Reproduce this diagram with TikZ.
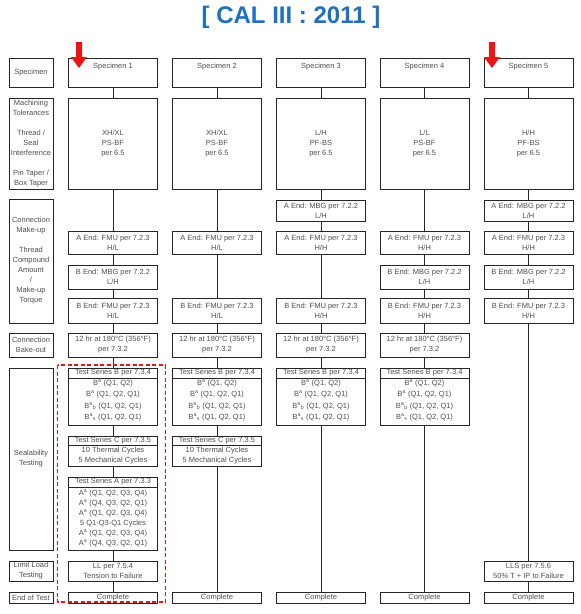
\documentclass[tikz,border=0pt]{standalone}
\usepackage{fontspec}
\setmainfont{Liberation Sans}
\usetikzlibrary{shadows}
\definecolor{titleblue}{RGB}{30,112,192}
\definecolor{txtgray}{RGB}{80,80,80}
\definecolor{arrred}{RGB}{235,20,20}
\newcommand\supsub[2]{\textsuperscript{#1}\textsubscript{#2}}
\begin{document}
\begin{tikzpicture}[x=1pt,y=-1pt,
  bx/.style={draw=black!85, line width=1pt, fill=white, inner sep=0pt,
    minimum width=89pt, align=center, font=\fontsize{7.5}{10}\selectfont, text=txtgray,
    drop shadow={shadow xshift=0.9pt, shadow yshift=-0.9pt, fill=black!70, opacity=1}},
  lb/.style={bx, minimum width=44pt},
  txt/.style={inner sep=0pt, align=center, font=\fontsize{7.5}{10}\selectfont, text=txtgray},
  conn/.style={draw=black!85, line width=1pt},
  hdr/.style={draw=black!85, line width=0.7pt}
]
\useasboundingbox (0,0) rectangle (581,614);
\fill[white] (0,0) rectangle (581,614);

% title
\node[font=\bfseries\fontsize{24}{28}\selectfont, text=titleblue] (title) at (291,17.5) {[ CAL III : 2011 ]};

% left labels
\node[lb, minimum height=29pt] (Lspec) at (31,72.5) {Specimen};
\node[lb, minimum height=91pt] (Lmach) at (31,143.5) {Machining\\Tolerances\\[10pt]Thread /\\Seal\\Interference\\[10pt]Pin Taper /\\Box Taper};
\node[lb, minimum height=124pt] (Lconn) at (31,261) {Connection\\Make-up\\[10pt]Thread\\Compound\\Amount\\/\\Make-up\\Torque};
\node[lb, minimum height=24pt] (Lbake) at (31,345) {Connection\\Bake-out};
\node[lb, minimum height=182pt] (Lseal) at (31,459) {Sealability\\Testing};
\node[lb, minimum height=20pt] (Llimit) at (31,571) {Limit Load\\Testing};
\node[lb, minimum height=11pt] (Lend) at (31,597.5) {End of Test};

% specimen row
\foreach \n/\x in {1/113,2/217,3/321,4/424.5,5/528.5}{
  \node[bx, minimum height=29pt, label={[txt, anchor=north, yshift=-5pt]north:Specimen \n}] (s\n) at (\x,72.5) {};
}

% machining row
\node[bx, minimum height=91pt] (m1) at (113,143.5) {XH/XL\\PS-BF\\per 6.5};
\node[bx, minimum height=91pt] (m2) at (217,143.5) {XH/XL\\PS-BF\\per 6.5};
\node[bx, minimum height=91pt] (m3) at (321,143.5) {L/H\\PF-BS\\per 6.5};
\node[bx, minimum height=91pt] (m4) at (424.5,143.5) {L/L\\PS-BF\\per 6.5};
\node[bx, minimum height=91pt] (m5) at (528.5,143.5) {H/H\\PF-BS\\per 6.5};

% make-up rows
\node[bx, minimum height=21pt] (amb3) at (321,210.5) {A End: MBG per 7.2.2\\L/H};
\node[bx, minimum height=21pt] (amb5) at (528.5,210.5) {A End: MBG per 7.2.2\\L/H};

\node[bx, minimum height=23pt] (afm1) at (113,242.5) {A End: FMU per 7.2.3\\H/L};
\node[bx, minimum height=23pt] (afm2) at (217,242.5) {A End: FMU per 7.2.3\\H/L};
\node[bx, minimum height=23pt] (afm3) at (321,242.5) {A End: FMU per 7.2.3\\H/H};
\node[bx, minimum height=23pt] (afm4) at (424.5,242.5) {A End: FMU per 7.2.3\\H/H};
\node[bx, minimum height=23pt] (afm5) at (528.5,242.5) {A End: FMU per 7.2.3\\H/H};

\node[bx, minimum height=24pt] (bmb1) at (113,277) {B End: MBG per 7.2.2\\L/H};
\node[bx, minimum height=24pt] (bmb4) at (424.5,277) {B End: MBG per 7.2.2\\L/H};
\node[bx, minimum height=24pt] (bmb5) at (528.5,277) {B End: MBG per 7.2.2\\L/H};

\node[bx, minimum height=25pt] (bfm1) at (113,310.5) {B End: FMU per 7.2.3\\H/L};
\node[bx, minimum height=25pt] (bfm2) at (217,310.5) {B End: FMU per 7.2.3\\H/L};
\node[bx, minimum height=25pt] (bfm3) at (321,310.5) {B End: FMU per 7.2.3\\H/H};
\node[bx, minimum height=25pt] (bfm4) at (424.5,310.5) {B End: FMU per 7.2.3\\H/H};
\node[bx, minimum height=25pt] (bfm5) at (528.5,310.5) {B End: FMU per 7.2.3\\H/H};

% bake-out
\foreach \n/\x in {1/113,2/217,3/321,4/424.5}{
  \node[bx, minimum height=24pt] (bk\n) at (\x,345) {12 hr at 180°C (356°F)\\per 7.3.2};
}

% test series B
\foreach \n/\x in {1/113,2/217,3/321,4/424.5}{
  \node[bx, minimum height=57pt] (tb\n) at (\x,396.5) {};
  \draw[hdr] (\x-44.5,378.5) -- (\x+44.5,378.5);
  \node[txt] (tbh\n) at (\x,373) {Test Series B per 7.3.4};
  \node[txt, font=\fontsize{7.5}{11.5}\selectfont] (tbb\n) at (\x,400.5) {B\textsuperscript{a} (Q1, Q2)\\B\textsuperscript{a} (Q1, Q2, Q1)\\B\supsub{a}{b} (Q1, Q2, Q1)\\B\supsub{a}{s} (Q1, Q2, Q1)};
}

% test series C
\foreach \n/\x in {1/113,2/217}{
  \node[bx, minimum height=30pt] (tc\n) at (\x,451) {};
  \draw[hdr] (\x-44.5,445) -- (\x+44.5,445);
  \node[txt] (tch\n) at (\x,440.5) {Test Series C per 7.3.5};
  \node[txt] (tcb\n) at (\x,455.5) {10 Thermal Cycles\\5 Mechanical Cycles};
}

% test series A
\node[bx, minimum height=73pt] (ta1) at (113,513.5) {};
\draw[hdr] (68.5,487) -- (157.5,487);
\node[txt] (tah1) at (113,482) {Test Series A per 7.3.3};
\node[txt] (tab1) at (113,518.5) {A\textsuperscript{a} (Q1, Q2, Q3, Q4)\\A\textsuperscript{a} (Q4, Q3, Q2, Q1)\\A\textsuperscript{a} (Q1, Q2, Q3, Q4)\\5 Q1-Q3-Q1 Cycles\\A\textsuperscript{a} (Q1, Q2, Q3, Q4)\\A\textsuperscript{a} (Q4, Q3, Q2, Q1)};

% limit load
\node[bx, minimum height=20pt] (ll1) at (113,571) {LL per 7.5.4\\Tension to Failure};
\node[bx, minimum height=20pt] (ll5) at (528.5,571) {LLS per 7.5.6\\50\% T + IP to Failure};

% complete
\foreach \n/\x in {1/113,2/217,3/321,4/424.5,5/528.5}{
  \node[bx, minimum height=11pt] (e\n) at (\x,597.5) {Complete};
}

% connectors
\draw[conn] (s1) -- (m1); \draw[conn] (m1) -- (afm1); \draw[conn] (afm1) -- (bmb1);
\draw[conn] (bmb1) -- (bfm1); \draw[conn] (bfm1) -- (bk1); \draw[conn] (bk1) -- (tb1);
\draw[conn] (tb1) -- (tc1); \draw[conn] (tc1) -- (ta1); \draw[conn] (ta1) -- (ll1);
\draw[conn] (ll1) -- (e1);

\draw[conn] (s2) -- (m2); \draw[conn] (m2) -- (afm2); \draw[conn] (afm2) -- (bfm2);
\draw[conn] (bfm2) -- (bk2); \draw[conn] (bk2) -- (tb2); \draw[conn] (tb2) -- (tc2);
\draw[conn] (tc2) -- (e2);

\draw[conn] (s3) -- (m3); \draw[conn] (m3) -- (amb3); \draw[conn] (amb3) -- (afm3);
\draw[conn] (afm3) -- (bfm3); \draw[conn] (bfm3) -- (bk3); \draw[conn] (bk3) -- (tb3);
\draw[conn] (tb3) -- (e3);

\draw[conn] (s4) -- (m4); \draw[conn] (m4) -- (afm4); \draw[conn] (afm4) -- (bmb4);
\draw[conn] (bmb4) -- (bfm4); \draw[conn] (bfm4) -- (bk4); \draw[conn] (bk4) -- (tb4);
\draw[conn] (tb4) -- (e4);

\draw[conn] (s5) -- (m5); \draw[conn] (m5) -- (amb5); \draw[conn] (amb5) -- (afm5);
\draw[conn] (afm5) -- (bmb5); \draw[conn] (bmb5) -- (bfm5); \draw[conn] (bfm5) -- (ll5);
\draw[conn] (ll5) -- (e5);

% red dashed highlight
\draw[arrred, line width=1.6pt, dash pattern=on 4pt off 2.5pt] (57.5,365) rectangle (165.5,602);

% red arrows
\foreach \x in {79,492}{
  \fill[arrred] (\x-3,42) -- (\x+3,42) -- (\x+3,57) -- (\x+8,57) -- (\x,68) -- (\x-8,57) -- (\x-3,57) -- cycle;
}
\end{tikzpicture}
\end{document}
